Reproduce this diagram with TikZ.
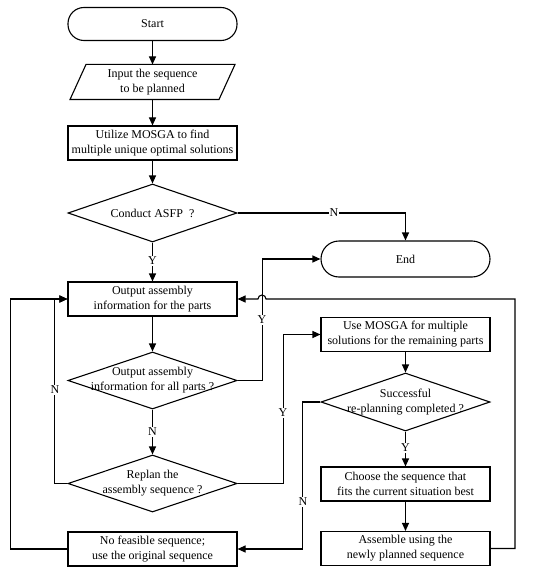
\documentclass[tikz,border=0pt]{standalone}
\usepackage{fontspec}
\setmainfont{Liberation Serif}
\usetikzlibrary{arrows.meta,shapes.geometric}
\begin{document}
\begin{tikzpicture}[x=1pt,y=-1pt,
 font=\fontsize{12}{15}\selectfont,
 line width=1.1pt,
 >={Triangle[length=8pt,width=7pt]},
 box/.style={draw, rectangle, minimum width=169pt, minimum height=34pt, inner sep=0pt, align=center},
 term/.style={draw, rectangle, rounded corners=16pt, minimum width=169pt, minimum height=33pt, inner sep=0pt},
 dec/.style={draw, diamond, minimum width=169pt, minimum height=58pt, inner sep=0pt},
 txt/.style={align=center, inner sep=0pt},
 lab/.style={fill=white, inner sep=1pt},
 flow/.style={->}
]
\useasboundingbox (0,0) rectangle (550,575);
% nodes
\node[term] (start) at (152.5,24) {Start};
\node[txt, minimum height=34pt, minimum width=150pt] (input) at (152.5,82) {Input the sequence\\to be planned};
\draw ([xshift=-66.5pt]input.north) -- ([xshift=82.5pt]input.north) -- ([xshift=66.5pt]input.south) -- ([xshift=-82.5pt]input.south) -- cycle;
\node[box] (util) at (152.5,143) {Utilize MOSGA to find\\multiple unique optimal solutions};
\node[dec] (asfp) at (152.5,213) {};
\node[txt] (asfpt) at (asfp.center) {Conduct ASFP~~?};
\node[term, minimum height=36pt, rounded corners=18pt] (end) at (405.5,259) {End};
\node[box] (out) at (152.5,299) {Output assembly\\information for the parts};
\node[dec, minimum height=57pt] (all) at (152.5,380.5) {};
\node[txt] (allt) at (all.center) {Output assembly\\information for all parts ?};
\node[dec, minimum height=57pt] (replan) at (152.5,483.5) {};
\node[txt] (replant) at (replan.center) {Replan the\\assembly sequence ?};
\node[box] (nofeas) at (152.5,549) {No feasible sequence;\\use the original sequence};
\node[box] (use) at (405.5,334.5) {Use MOSGA for multiple\\solutions for the remaining parts};
\node[dec] (succ) at (405.5,402) {};
\node[txt] (succt) at (succ.center) {Successful\\re-planning completed ?};
\node[box] (choose) at (405.5,484) {Choose the sequence that\\fits the current situation best};
\node[box] (assemble) at (405.5,548.5) {Assemble using the\\newly planned sequence};
\coordinate (ar) at (515,299);
\coordinate (hop) at (266,299);
% connectors
\draw[flow] (start) -- (input);
\draw[flow] (input) -- (util);
\draw[flow] (util) -- (asfp);
\draw[flow] (asfp.east) -| (end.north);
\draw[flow] (asfp) -- (out);
\draw[flow] (out) -- (all);
\draw[flow] (all.east) -- ++(25,0) |- (end.west);
\draw[flow] (all) -- (replan);
\draw[flow] (replan.west) -- ++(-13,0) |- (out.west);
\draw[flow] (replan.east) -- ++(46,0) |- (use.west);
\draw[flow] (use) -- (succ);
\draw[flow] (succ) -- (choose);
\draw[flow] (choose) -- (assemble);
\draw[flow] (succ.west) -- ++(-18,0) |- (nofeas.east);
\draw[flow] (nofeas.west) -- ++(-57,0) |- (out.west);
\draw[flow] (assemble.east) -| (ar) -- (hop) arc[start angle=0,end angle=180,radius=4pt] -- (out.east);
% labels
\node[lab] (l1) at (334,213) {N};
\node[lab] (l2) at (152.5,261) {Y};
\node[lab] (l3) at (262,320) {Y};
\node[lab] (l4) at (152.5,432) {N};
\node[lab] (l5) at (55,390) {N};
\node[lab] (l6) at (283,413) {Y};
\node[lab] (l7) at (303,502) {N};
\node[lab] (l8) at (405.5,448) {Y};
\end{tikzpicture}
\end{document}
